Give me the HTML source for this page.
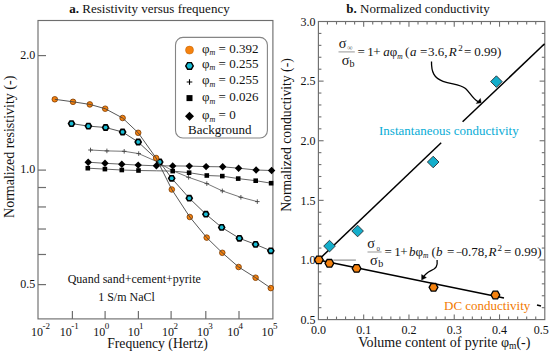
<!DOCTYPE html>
<html><head><meta charset="utf-8"><style>
html,body{margin:0;padding:0;background:#fff;width:550px;height:354px;overflow:hidden}
svg{display:block}
text{font-family:"Liberation Serif",serif;fill:#111}
.t12{font-size:12px} .t13{font-size:13px} .t14{font-size:13.7px}
</style></head><body>
<svg width="550" height="354" viewBox="0 0 550 354">
<rect x="38.0" y="20.5" width="234.90" height="298.40" fill="none" stroke="#6e6e6e" stroke-width="1.15"/>
<line x1="38.0" y1="55.59" x2="46.0" y2="55.59" stroke="#6e6e6e" stroke-width="1.2"/>
<line x1="38.0" y1="170.10" x2="46.0" y2="170.10" stroke="#6e6e6e" stroke-width="1.2"/>
<line x1="38.0" y1="187.51" x2="46.0" y2="187.51" stroke="#6e6e6e" stroke-width="1.2"/>
<line x1="38.0" y1="206.96" x2="46.0" y2="206.96" stroke="#6e6e6e" stroke-width="1.2"/>
<line x1="38.0" y1="229.02" x2="46.0" y2="229.02" stroke="#6e6e6e" stroke-width="1.2"/>
<line x1="38.0" y1="254.49" x2="46.0" y2="254.49" stroke="#6e6e6e" stroke-width="1.2"/>
<line x1="38.0" y1="284.61" x2="46.0" y2="284.61" stroke="#6e6e6e" stroke-width="1.2"/>
<text x="35.3" y="58.59" text-anchor="end" class="t12">2.0</text>
<text x="35.3" y="173.10" text-anchor="end" class="t12">1.0</text>
<text x="35.3" y="287.61" text-anchor="end" class="t12">0.5</text>
<line x1="72.40" y1="318.9" x2="72.40" y2="310.9" stroke="#6e6e6e" stroke-width="1.2"/>
<line x1="105.10" y1="318.9" x2="105.10" y2="310.9" stroke="#6e6e6e" stroke-width="1.2"/>
<line x1="138.40" y1="318.9" x2="138.40" y2="310.9" stroke="#6e6e6e" stroke-width="1.2"/>
<line x1="171.10" y1="318.9" x2="171.10" y2="310.9" stroke="#6e6e6e" stroke-width="1.2"/>
<line x1="205.80" y1="318.9" x2="205.80" y2="310.9" stroke="#6e6e6e" stroke-width="1.2"/>
<line x1="239.00" y1="318.9" x2="239.00" y2="310.9" stroke="#6e6e6e" stroke-width="1.2"/>
<text x="31.05" y="336.4" class="t12">10<tspan font-size="9" dx="-0.6" dy="-7.2">-2</tspan></text>
<text x="59.75" y="336.4" class="t12">10<tspan font-size="9" dx="-0.6" dy="-7.2">-1</tspan></text>
<text x="93.25" y="336.4" class="t12">10<tspan font-size="9" dx="-0.6" dy="-7.2">0</tspan></text>
<text x="127.65" y="336.4" class="t12">10<tspan font-size="9" dx="-0.6" dy="-7.2">1</tspan></text>
<text x="162.05" y="336.4" class="t12">10<tspan font-size="9" dx="-0.6" dy="-7.2">2</tspan></text>
<text x="196.95" y="336.4" class="t12">10<tspan font-size="9" dx="-0.6" dy="-7.2">3</tspan></text>
<text x="227.15" y="336.4" class="t12">10<tspan font-size="9" dx="-0.6" dy="-7.2">4</tspan></text>
<text x="261.55" y="336.4" class="t12">10<tspan font-size="9" dx="-0.6" dy="-7.2">5</tspan></text>
<text x="149.5" y="13.2" text-anchor="middle" class="t13"><tspan font-weight="bold">a.</tspan> Resistivity versus frequency</text>
<text x="157.5" y="347.5" text-anchor="middle" class="t14">Frequency (Hertz)</text>
<text transform="translate(13.9,146.8) rotate(-90)" text-anchor="middle" font-size="14">Normalized resistivity (-)</text>
<text x="134.3" y="283.0" text-anchor="middle" class="t12">Quand sand+cement+pyrite</text>
<text x="126.5" y="301" text-anchor="middle" class="t12">1 S/m NaCl</text>
<polyline points="88.2,162.2 105.0,163.3 121.8,164.2 138.2,165.1 156.4,165.8 172.7,165.9 189.3,166.1 206.1,166.6 222.7,166.8 238.6,168.2 256.1,170.0 271.6,170.5" fill="none" stroke="#555" stroke-width="0.9"/>
<polyline points="87.8,168.2 104.9,169.1 121.8,170.0 138.5,170.5 156.4,170.8 172.7,171.1 189.1,172.7 206.8,175.5 222.3,176.1 238.2,178.6 255.7,180.7 271.1,183.2" fill="none" stroke="#555" stroke-width="0.9"/>
<polyline points="90.5,150.0 106.9,150.9 124.2,151.3 138.7,153.6 155.5,161.0 172.2,170.5 188.6,177.3 206.8,183.6 222.3,190.9 240.9,197.3 257.3,201.6" fill="none" stroke="#666" stroke-width="0.9"/>
<rect x="85.50" y="165.90" width="4.6" height="4.6" fill="#000"/>
<rect x="102.60" y="166.80" width="4.6" height="4.6" fill="#000"/>
<rect x="119.50" y="167.70" width="4.6" height="4.6" fill="#000"/>
<rect x="136.20" y="168.20" width="4.6" height="4.6" fill="#000"/>
<rect x="170.40" y="168.80" width="4.6" height="4.6" fill="#000"/>
<rect x="186.80" y="170.40" width="4.6" height="4.6" fill="#000"/>
<rect x="204.50" y="173.20" width="4.6" height="4.6" fill="#000"/>
<rect x="220.00" y="173.80" width="4.6" height="4.6" fill="#000"/>
<rect x="235.90" y="176.30" width="4.6" height="4.6" fill="#000"/>
<rect x="253.40" y="178.40" width="4.6" height="4.6" fill="#000"/>
<rect x="268.80" y="180.90" width="4.6" height="4.6" fill="#000"/>
<polygon points="88.20,158.50 91.90,162.20 88.20,165.90 84.50,162.20" fill="#000" stroke="none" stroke-width="0"/>
<polygon points="105.00,159.60 108.70,163.30 105.00,167.00 101.30,163.30" fill="#000" stroke="none" stroke-width="0"/>
<polygon points="121.80,160.50 125.50,164.20 121.80,167.90 118.10,164.20" fill="#000" stroke="none" stroke-width="0"/>
<polygon points="138.20,161.40 141.90,165.10 138.20,168.80 134.50,165.10" fill="#000" stroke="none" stroke-width="0"/>
<polygon points="156.40,162.10 160.10,165.80 156.40,169.50 152.70,165.80" fill="#000" stroke="none" stroke-width="0"/>
<polygon points="172.70,162.20 176.40,165.90 172.70,169.60 169.00,165.90" fill="#000" stroke="none" stroke-width="0"/>
<polygon points="189.30,162.40 193.00,166.10 189.30,169.80 185.60,166.10" fill="#000" stroke="none" stroke-width="0"/>
<polygon points="206.10,162.90 209.80,166.60 206.10,170.30 202.40,166.60" fill="#000" stroke="none" stroke-width="0"/>
<polygon points="222.70,163.10 226.40,166.80 222.70,170.50 219.00,166.80" fill="#000" stroke="none" stroke-width="0"/>
<polygon points="238.60,164.50 242.30,168.20 238.60,171.90 234.90,168.20" fill="#000" stroke="none" stroke-width="0"/>
<polygon points="256.10,166.30 259.80,170.00 256.10,173.70 252.40,170.00" fill="#000" stroke="none" stroke-width="0"/>
<polygon points="271.60,166.80 275.30,170.50 271.60,174.20 267.90,170.50" fill="#000" stroke="none" stroke-width="0"/>
<path d="M88.20 150.00H92.80M90.50 147.70V152.30" stroke="#444" stroke-width="0.9"/>
<path d="M104.60 150.90H109.20M106.90 148.60V153.20" stroke="#444" stroke-width="0.9"/>
<path d="M121.90 151.30H126.50M124.20 149.00V153.60" stroke="#444" stroke-width="0.9"/>
<path d="M136.40 153.60H141.00M138.70 151.30V155.90" stroke="#444" stroke-width="0.9"/>
<path d="M186.30 177.30H190.90M188.60 175.00V179.60" stroke="#444" stroke-width="0.9"/>
<path d="M204.50 183.60H209.10M206.80 181.30V185.90" stroke="#444" stroke-width="0.9"/>
<path d="M220.00 190.90H224.60M222.30 188.60V193.20" stroke="#444" stroke-width="0.9"/>
<path d="M238.60 197.30H243.20M240.90 195.00V199.60" stroke="#444" stroke-width="0.9"/>
<path d="M255.00 201.60H259.60M257.30 199.30V203.90" stroke="#444" stroke-width="0.9"/>
<polyline points="71.5,123.6 88.4,126.1 105.6,127.5 122.6,132.0 138.2,142.0 159.7,162.0 171.7,178.3 189.3,198.2 205.9,214.2 221.7,227.4 239.4,238.3 255.6,244.4 270.8,250.8" fill="none" stroke="#444" stroke-width="0.9"/>
<polygon points="74.50,123.60 73.00,126.20 70.00,126.20 68.50,123.60 70.00,121.00 73.00,121.00" fill="#18bdd5" stroke="#000" stroke-width="1.6"/>
<polygon points="91.40,126.10 89.90,128.70 86.90,128.70 85.40,126.10 86.90,123.50 89.90,123.50" fill="#18bdd5" stroke="#000" stroke-width="1.6"/>
<polygon points="108.60,127.50 107.10,130.10 104.10,130.10 102.60,127.50 104.10,124.90 107.10,124.90" fill="#18bdd5" stroke="#000" stroke-width="1.6"/>
<polygon points="125.60,132.00 124.10,134.60 121.10,134.60 119.60,132.00 121.10,129.40 124.10,129.40" fill="#18bdd5" stroke="#000" stroke-width="1.6"/>
<polygon points="141.20,142.00 139.70,144.60 136.70,144.60 135.20,142.00 136.70,139.40 139.70,139.40" fill="#18bdd5" stroke="#000" stroke-width="1.6"/>
<polygon points="162.70,162.00 161.20,164.60 158.20,164.60 156.70,162.00 158.20,159.40 161.20,159.40" fill="#18bdd5" stroke="#000" stroke-width="1.6"/>
<polygon points="174.70,178.30 173.20,180.90 170.20,180.90 168.70,178.30 170.20,175.70 173.20,175.70" fill="#18bdd5" stroke="#000" stroke-width="1.6"/>
<polygon points="192.30,198.20 190.80,200.80 187.80,200.80 186.30,198.20 187.80,195.60 190.80,195.60" fill="#18bdd5" stroke="#000" stroke-width="1.6"/>
<polygon points="208.90,214.20 207.40,216.80 204.40,216.80 202.90,214.20 204.40,211.60 207.40,211.60" fill="#18bdd5" stroke="#000" stroke-width="1.6"/>
<polygon points="224.70,227.40 223.20,230.00 220.20,230.00 218.70,227.40 220.20,224.80 223.20,224.80" fill="#18bdd5" stroke="#000" stroke-width="1.6"/>
<polygon points="242.40,238.30 240.90,240.90 237.90,240.90 236.40,238.30 237.90,235.70 240.90,235.70" fill="#18bdd5" stroke="#000" stroke-width="1.6"/>
<polygon points="258.60,244.40 257.10,247.00 254.10,247.00 252.60,244.40 254.10,241.80 257.10,241.80" fill="#18bdd5" stroke="#000" stroke-width="1.6"/>
<polygon points="273.80,250.80 272.30,253.40 269.30,253.40 267.80,250.80 269.30,248.20 272.30,248.20" fill="#18bdd5" stroke="#000" stroke-width="1.6"/>
<circle cx="54.8" cy="99.3" r="2.8" fill="#f5820f" stroke="#7a3a00" stroke-width="0.8"/>
<circle cx="73" cy="101.8" r="2.8" fill="#f5820f" stroke="#7a3a00" stroke-width="0.8"/>
<circle cx="89.8" cy="104.4" r="2.8" fill="#f5820f" stroke="#7a3a00" stroke-width="0.8"/>
<circle cx="105.2" cy="108.7" r="2.8" fill="#f5820f" stroke="#7a3a00" stroke-width="0.8"/>
<circle cx="122.6" cy="118" r="2.8" fill="#f5820f" stroke="#7a3a00" stroke-width="0.8"/>
<circle cx="138.2" cy="132.8" r="2.8" fill="#f5820f" stroke="#7a3a00" stroke-width="0.8"/>
<circle cx="156.1" cy="158" r="2.8" fill="#f5820f" stroke="#7a3a00" stroke-width="0.8"/>
<circle cx="171.8" cy="189.5" r="2.8" fill="#f5820f" stroke="#7a3a00" stroke-width="0.8"/>
<circle cx="189.8" cy="217" r="2.8" fill="#f5820f" stroke="#7a3a00" stroke-width="0.8"/>
<circle cx="206.7" cy="237.6" r="2.8" fill="#f5820f" stroke="#7a3a00" stroke-width="0.8"/>
<circle cx="222.3" cy="252.8" r="2.8" fill="#f5820f" stroke="#7a3a00" stroke-width="0.8"/>
<circle cx="238.6" cy="267" r="2.8" fill="#f5820f" stroke="#7a3a00" stroke-width="0.8"/>
<circle cx="255.6" cy="277.7" r="2.8" fill="#f5820f" stroke="#7a3a00" stroke-width="0.8"/>
<circle cx="270.8" cy="288.1" r="2.8" fill="#f5820f" stroke="#7a3a00" stroke-width="0.8"/>
<polyline points="54.8,99.3 73.0,101.8 89.8,104.4 105.2,108.7 122.6,118.0 138.2,132.8 156.1,158.0 171.8,189.5 189.8,217.0 206.7,237.6 222.3,252.8 238.6,267.0 255.6,277.7 270.8,288.1" fill="none" stroke="#444" stroke-width="0.9"/>
<rect x="175.5" y="37.4" width="91.9" height="100.6" rx="7.5" ry="7.5" fill="#fff" stroke="#858585" stroke-width="1.1"/>
<circle cx="189.5" cy="50.1" r="4" fill="#f5820f" stroke="#c06000" stroke-width="0.5"/>
<polygon points="193.30,65.90 191.40,69.19 187.60,69.19 185.70,65.90 187.60,62.61 191.40,62.61" fill="#18bdd5" stroke="#000" stroke-width="1.4"/>
<path d="M186.70 82.00H192.30M189.50 79.20V84.80" stroke="#000" stroke-width="1.1"/>
<rect x="186.5" y="95.1" width="6" height="6" fill="#000"/>
<polygon points="189.50,111.70 194.00,116.20 189.50,120.70 185.00,116.20" fill="#000" stroke="none" stroke-width="0"/>
<text x="202" y="52.7" class="t13">φ<tspan font-style="italic" font-size="8" dy="2.6">m</tspan><tspan dy="-2.6"> = 0.392</tspan></text>
<text x="202" y="67.7" class="t13">φ<tspan font-style="italic" font-size="8" dy="2.6">m</tspan><tspan dy="-2.6"> = 0.255</tspan></text>
<text x="202" y="84.0" class="t13">φ<tspan font-style="italic" font-size="8" dy="2.6">m</tspan><tspan dy="-2.6"> = 0.255</tspan></text>
<text x="202" y="101.0" class="t13">φ<tspan font-style="italic" font-size="8" dy="2.6">m</tspan><tspan dy="-2.6"> = 0.026</tspan></text>
<text x="202" y="119.0" class="t13">φ<tspan font-style="italic" font-size="8" dy="2.6">m</tspan><tspan dy="-2.6"> = 0</tspan></text>
<text x="188" y="134.3" class="t13">Background</text>
<rect x="318.4" y="21.5" width="226.40" height="298.10" fill="none" stroke="#6e6e6e" stroke-width="1.15"/>
<line x1="327.46" y1="319.6" x2="327.46" y2="316.6" stroke="#6e6e6e" stroke-width="1.1"/>
<line x1="327.46" y1="21.5" x2="327.46" y2="24.5" stroke="#6e6e6e" stroke-width="1.1"/>
<line x1="336.51" y1="319.6" x2="336.51" y2="316.6" stroke="#6e6e6e" stroke-width="1.1"/>
<line x1="336.51" y1="21.5" x2="336.51" y2="24.5" stroke="#6e6e6e" stroke-width="1.1"/>
<line x1="345.57" y1="319.6" x2="345.57" y2="316.6" stroke="#6e6e6e" stroke-width="1.1"/>
<line x1="345.57" y1="21.5" x2="345.57" y2="24.5" stroke="#6e6e6e" stroke-width="1.1"/>
<line x1="354.62" y1="319.6" x2="354.62" y2="316.6" stroke="#6e6e6e" stroke-width="1.1"/>
<line x1="354.62" y1="21.5" x2="354.62" y2="24.5" stroke="#6e6e6e" stroke-width="1.1"/>
<line x1="363.68" y1="319.6" x2="363.68" y2="314.40000000000003" stroke="#6e6e6e" stroke-width="1.1"/>
<line x1="363.68" y1="21.5" x2="363.68" y2="26.7" stroke="#6e6e6e" stroke-width="1.1"/>
<line x1="372.74" y1="319.6" x2="372.74" y2="316.6" stroke="#6e6e6e" stroke-width="1.1"/>
<line x1="372.74" y1="21.5" x2="372.74" y2="24.5" stroke="#6e6e6e" stroke-width="1.1"/>
<line x1="381.79" y1="319.6" x2="381.79" y2="316.6" stroke="#6e6e6e" stroke-width="1.1"/>
<line x1="381.79" y1="21.5" x2="381.79" y2="24.5" stroke="#6e6e6e" stroke-width="1.1"/>
<line x1="390.85" y1="319.6" x2="390.85" y2="316.6" stroke="#6e6e6e" stroke-width="1.1"/>
<line x1="390.85" y1="21.5" x2="390.85" y2="24.5" stroke="#6e6e6e" stroke-width="1.1"/>
<line x1="399.90" y1="319.6" x2="399.90" y2="316.6" stroke="#6e6e6e" stroke-width="1.1"/>
<line x1="399.90" y1="21.5" x2="399.90" y2="24.5" stroke="#6e6e6e" stroke-width="1.1"/>
<line x1="408.96" y1="319.6" x2="408.96" y2="314.40000000000003" stroke="#6e6e6e" stroke-width="1.1"/>
<line x1="408.96" y1="21.5" x2="408.96" y2="26.7" stroke="#6e6e6e" stroke-width="1.1"/>
<line x1="418.02" y1="319.6" x2="418.02" y2="316.6" stroke="#6e6e6e" stroke-width="1.1"/>
<line x1="418.02" y1="21.5" x2="418.02" y2="24.5" stroke="#6e6e6e" stroke-width="1.1"/>
<line x1="427.07" y1="319.6" x2="427.07" y2="316.6" stroke="#6e6e6e" stroke-width="1.1"/>
<line x1="427.07" y1="21.5" x2="427.07" y2="24.5" stroke="#6e6e6e" stroke-width="1.1"/>
<line x1="436.13" y1="319.6" x2="436.13" y2="316.6" stroke="#6e6e6e" stroke-width="1.1"/>
<line x1="436.13" y1="21.5" x2="436.13" y2="24.5" stroke="#6e6e6e" stroke-width="1.1"/>
<line x1="445.18" y1="319.6" x2="445.18" y2="316.6" stroke="#6e6e6e" stroke-width="1.1"/>
<line x1="445.18" y1="21.5" x2="445.18" y2="24.5" stroke="#6e6e6e" stroke-width="1.1"/>
<line x1="454.24" y1="319.6" x2="454.24" y2="314.40000000000003" stroke="#6e6e6e" stroke-width="1.1"/>
<line x1="454.24" y1="21.5" x2="454.24" y2="26.7" stroke="#6e6e6e" stroke-width="1.1"/>
<line x1="463.30" y1="319.6" x2="463.30" y2="316.6" stroke="#6e6e6e" stroke-width="1.1"/>
<line x1="463.30" y1="21.5" x2="463.30" y2="24.5" stroke="#6e6e6e" stroke-width="1.1"/>
<line x1="472.35" y1="319.6" x2="472.35" y2="316.6" stroke="#6e6e6e" stroke-width="1.1"/>
<line x1="472.35" y1="21.5" x2="472.35" y2="24.5" stroke="#6e6e6e" stroke-width="1.1"/>
<line x1="481.41" y1="319.6" x2="481.41" y2="316.6" stroke="#6e6e6e" stroke-width="1.1"/>
<line x1="481.41" y1="21.5" x2="481.41" y2="24.5" stroke="#6e6e6e" stroke-width="1.1"/>
<line x1="490.46" y1="319.6" x2="490.46" y2="316.6" stroke="#6e6e6e" stroke-width="1.1"/>
<line x1="490.46" y1="21.5" x2="490.46" y2="24.5" stroke="#6e6e6e" stroke-width="1.1"/>
<line x1="499.52" y1="319.6" x2="499.52" y2="314.40000000000003" stroke="#6e6e6e" stroke-width="1.1"/>
<line x1="499.52" y1="21.5" x2="499.52" y2="26.7" stroke="#6e6e6e" stroke-width="1.1"/>
<line x1="508.58" y1="319.6" x2="508.58" y2="316.6" stroke="#6e6e6e" stroke-width="1.1"/>
<line x1="508.58" y1="21.5" x2="508.58" y2="24.5" stroke="#6e6e6e" stroke-width="1.1"/>
<line x1="517.63" y1="319.6" x2="517.63" y2="316.6" stroke="#6e6e6e" stroke-width="1.1"/>
<line x1="517.63" y1="21.5" x2="517.63" y2="24.5" stroke="#6e6e6e" stroke-width="1.1"/>
<line x1="526.69" y1="319.6" x2="526.69" y2="316.6" stroke="#6e6e6e" stroke-width="1.1"/>
<line x1="526.69" y1="21.5" x2="526.69" y2="24.5" stroke="#6e6e6e" stroke-width="1.1"/>
<line x1="535.74" y1="319.6" x2="535.74" y2="316.6" stroke="#6e6e6e" stroke-width="1.1"/>
<line x1="535.74" y1="21.5" x2="535.74" y2="24.5" stroke="#6e6e6e" stroke-width="1.1"/>
<line x1="318.4" y1="307.68" x2="321.4" y2="307.68" stroke="#6e6e6e" stroke-width="1.1"/>
<line x1="544.8" y1="307.68" x2="541.8" y2="307.68" stroke="#6e6e6e" stroke-width="1.1"/>
<line x1="318.4" y1="295.75" x2="321.4" y2="295.75" stroke="#6e6e6e" stroke-width="1.1"/>
<line x1="544.8" y1="295.75" x2="541.8" y2="295.75" stroke="#6e6e6e" stroke-width="1.1"/>
<line x1="318.4" y1="283.83" x2="321.4" y2="283.83" stroke="#6e6e6e" stroke-width="1.1"/>
<line x1="544.8" y1="283.83" x2="541.8" y2="283.83" stroke="#6e6e6e" stroke-width="1.1"/>
<line x1="318.4" y1="271.90" x2="321.4" y2="271.90" stroke="#6e6e6e" stroke-width="1.1"/>
<line x1="544.8" y1="271.90" x2="541.8" y2="271.90" stroke="#6e6e6e" stroke-width="1.1"/>
<line x1="318.4" y1="259.98" x2="323.59999999999997" y2="259.98" stroke="#6e6e6e" stroke-width="1.1"/>
<line x1="544.8" y1="259.98" x2="539.5999999999999" y2="259.98" stroke="#6e6e6e" stroke-width="1.1"/>
<line x1="318.4" y1="248.06" x2="321.4" y2="248.06" stroke="#6e6e6e" stroke-width="1.1"/>
<line x1="544.8" y1="248.06" x2="541.8" y2="248.06" stroke="#6e6e6e" stroke-width="1.1"/>
<line x1="318.4" y1="236.13" x2="321.4" y2="236.13" stroke="#6e6e6e" stroke-width="1.1"/>
<line x1="544.8" y1="236.13" x2="541.8" y2="236.13" stroke="#6e6e6e" stroke-width="1.1"/>
<line x1="318.4" y1="224.21" x2="321.4" y2="224.21" stroke="#6e6e6e" stroke-width="1.1"/>
<line x1="544.8" y1="224.21" x2="541.8" y2="224.21" stroke="#6e6e6e" stroke-width="1.1"/>
<line x1="318.4" y1="212.28" x2="321.4" y2="212.28" stroke="#6e6e6e" stroke-width="1.1"/>
<line x1="544.8" y1="212.28" x2="541.8" y2="212.28" stroke="#6e6e6e" stroke-width="1.1"/>
<line x1="318.4" y1="200.36" x2="323.59999999999997" y2="200.36" stroke="#6e6e6e" stroke-width="1.1"/>
<line x1="544.8" y1="200.36" x2="539.5999999999999" y2="200.36" stroke="#6e6e6e" stroke-width="1.1"/>
<line x1="318.4" y1="188.44" x2="321.4" y2="188.44" stroke="#6e6e6e" stroke-width="1.1"/>
<line x1="544.8" y1="188.44" x2="541.8" y2="188.44" stroke="#6e6e6e" stroke-width="1.1"/>
<line x1="318.4" y1="176.51" x2="321.4" y2="176.51" stroke="#6e6e6e" stroke-width="1.1"/>
<line x1="544.8" y1="176.51" x2="541.8" y2="176.51" stroke="#6e6e6e" stroke-width="1.1"/>
<line x1="318.4" y1="164.59" x2="321.4" y2="164.59" stroke="#6e6e6e" stroke-width="1.1"/>
<line x1="544.8" y1="164.59" x2="541.8" y2="164.59" stroke="#6e6e6e" stroke-width="1.1"/>
<line x1="318.4" y1="152.66" x2="321.4" y2="152.66" stroke="#6e6e6e" stroke-width="1.1"/>
<line x1="544.8" y1="152.66" x2="541.8" y2="152.66" stroke="#6e6e6e" stroke-width="1.1"/>
<line x1="318.4" y1="140.74" x2="323.59999999999997" y2="140.74" stroke="#6e6e6e" stroke-width="1.1"/>
<line x1="544.8" y1="140.74" x2="539.5999999999999" y2="140.74" stroke="#6e6e6e" stroke-width="1.1"/>
<line x1="318.4" y1="128.82" x2="321.4" y2="128.82" stroke="#6e6e6e" stroke-width="1.1"/>
<line x1="544.8" y1="128.82" x2="541.8" y2="128.82" stroke="#6e6e6e" stroke-width="1.1"/>
<line x1="318.4" y1="116.89" x2="321.4" y2="116.89" stroke="#6e6e6e" stroke-width="1.1"/>
<line x1="544.8" y1="116.89" x2="541.8" y2="116.89" stroke="#6e6e6e" stroke-width="1.1"/>
<line x1="318.4" y1="104.97" x2="321.4" y2="104.97" stroke="#6e6e6e" stroke-width="1.1"/>
<line x1="544.8" y1="104.97" x2="541.8" y2="104.97" stroke="#6e6e6e" stroke-width="1.1"/>
<line x1="318.4" y1="93.04" x2="321.4" y2="93.04" stroke="#6e6e6e" stroke-width="1.1"/>
<line x1="544.8" y1="93.04" x2="541.8" y2="93.04" stroke="#6e6e6e" stroke-width="1.1"/>
<line x1="318.4" y1="81.12" x2="323.59999999999997" y2="81.12" stroke="#6e6e6e" stroke-width="1.1"/>
<line x1="544.8" y1="81.12" x2="539.5999999999999" y2="81.12" stroke="#6e6e6e" stroke-width="1.1"/>
<line x1="318.4" y1="69.20" x2="321.4" y2="69.20" stroke="#6e6e6e" stroke-width="1.1"/>
<line x1="544.8" y1="69.20" x2="541.8" y2="69.20" stroke="#6e6e6e" stroke-width="1.1"/>
<line x1="318.4" y1="57.27" x2="321.4" y2="57.27" stroke="#6e6e6e" stroke-width="1.1"/>
<line x1="544.8" y1="57.27" x2="541.8" y2="57.27" stroke="#6e6e6e" stroke-width="1.1"/>
<line x1="318.4" y1="45.35" x2="321.4" y2="45.35" stroke="#6e6e6e" stroke-width="1.1"/>
<line x1="544.8" y1="45.35" x2="541.8" y2="45.35" stroke="#6e6e6e" stroke-width="1.1"/>
<line x1="318.4" y1="33.42" x2="321.4" y2="33.42" stroke="#6e6e6e" stroke-width="1.1"/>
<line x1="544.8" y1="33.42" x2="541.8" y2="33.42" stroke="#6e6e6e" stroke-width="1.1"/>
<text x="315.5" y="323.90" text-anchor="end" class="t12">0.5</text>
<text x="315.5" y="264.28" text-anchor="end" class="t12">1.0</text>
<text x="315.5" y="204.66" text-anchor="end" class="t12">1.5</text>
<text x="315.5" y="145.04" text-anchor="end" class="t12">2.0</text>
<text x="315.5" y="85.42" text-anchor="end" class="t12">2.5</text>
<text x="315.5" y="25.80" text-anchor="end" class="t12">3.0</text>
<text x="318.40" y="334.3" text-anchor="middle" class="t12">0.0</text>
<text x="363.68" y="334.3" text-anchor="middle" class="t12">0.1</text>
<text x="408.96" y="334.3" text-anchor="middle" class="t12">0.2</text>
<text x="454.24" y="334.3" text-anchor="middle" class="t12">0.3</text>
<text x="499.52" y="334.3" text-anchor="middle" class="t12">0.4</text>
<text x="541.30" y="334.3" text-anchor="middle" class="t12">0.5</text>
<text x="418" y="13.2" text-anchor="middle" class="t13"><tspan font-weight="bold">b.</tspan> Normalized conductivity</text>
<text x="444.3" y="346.7" text-anchor="middle" font-size="14">Volume content of pyrite φ<tspan font-size="9.5" dy="2">m</tspan><tspan dy="-2">(-)</tspan></text>
<text transform="translate(290.5,135.0) rotate(-90)" text-anchor="middle" class="t14">Normalized conductivity (-)</text>
<line x1="318.4" y1="260.0" x2="441.2" y2="142.8" stroke="#000" stroke-width="1.5"/>
<line x1="462.6" y1="121.8" x2="544.6" y2="43.8" stroke="#000" stroke-width="1.5"/>
<line x1="318.40" y1="259.98" x2="504.00" y2="298.10" stroke="#000" stroke-width="1.5"/>
<line x1="537" y1="305" x2="541" y2="306" stroke="#000" stroke-width="1.5"/>
<line x1="333.3" y1="260.1" x2="355.9" y2="260.1" stroke="#9a9a9a" stroke-width="1.3"/>
<polygon points="329.50,240.30 335.30,246.10 329.50,251.90 323.70,246.10" fill="#14aecb" stroke="#2a3035" stroke-width="0.9"/>
<polygon points="357.60,225.20 363.40,231.00 357.60,236.80 351.80,231.00" fill="#14aecb" stroke="#2a3035" stroke-width="0.9"/>
<polygon points="433.20,156.20 439.00,162.00 433.20,167.80 427.40,162.00" fill="#14aecb" stroke="#2a3035" stroke-width="0.9"/>
<polygon points="496.40,75.80 502.20,81.60 496.40,87.40 490.60,81.60" fill="#14aecb" stroke="#2a3035" stroke-width="0.9"/>
<polygon points="323.30,259.90 321.10,263.71 316.70,263.71 314.50,259.90 316.70,256.09 321.10,256.09" fill="#f5820f" stroke="#000" stroke-width="1.3"/>
<polygon points="333.80,263.30 331.60,267.11 327.20,267.11 325.00,263.30 327.20,259.49 331.60,259.49" fill="#f5820f" stroke="#000" stroke-width="1.3"/>
<polygon points="361.00,268.40 358.80,272.21 354.40,272.21 352.20,268.40 354.40,264.59 358.80,264.59" fill="#f5820f" stroke="#000" stroke-width="1.3"/>
<polygon points="437.90,287.30 435.70,291.11 431.30,291.11 429.10,287.30 431.30,283.49 435.70,283.49" fill="#f5820f" stroke="#000" stroke-width="1.3"/>
<polygon points="499.80,295.00 497.60,298.81 493.20,298.81 491.00,295.00 493.20,291.19 497.60,291.19" fill="#f5820f" stroke="#000" stroke-width="1.3"/>
<text x="338.8" y="47.6" font-size="14.3">σ</text>
<text x="347.3" y="49.8" font-size="7.5" style="fill:#555">∞</text>
<line x1="338.5" y1="51.9" x2="354.8" y2="51.9" stroke="#a0a0a0" stroke-width="1.1"/>
<text x="341.8" y="64.8" font-size="14.3">σ</text>
<text x="349.5" y="67.4" font-size="10">b</text>
<text y="56.2" font-size="13"><tspan x="357.45">=</tspan><tspan x="367.3">1</tspan><tspan x="373.25">+</tspan><tspan x="383.3" font-style="italic">a</tspan>φ<tspan font-style="italic" font-size="7.5" dy="2.5">m</tspan><tspan x="404.9" dy="-2.5">(</tspan><tspan x="410.1" font-style="italic">a</tspan><tspan x="419.95">=</tspan><tspan x="428.1">3.6,</tspan><tspan x="448.8" font-style="italic">R</tspan><tspan font-size="9" dx="1.5" dy="-5">2</tspan><tspan x="464.05" dy="5">=</tspan><tspan x="474.2">0.99)</tspan></text>
<text x="367.3" y="247.8" font-size="14.3">σ</text>
<text x="376.5" y="250.6" font-size="7" style="fill:#444">0</text>
<line x1="367.5" y1="252.0" x2="381.6" y2="252.0" stroke="#a0a0a0" stroke-width="1.1"/>
<text x="370" y="265.4" font-size="14.3">σ</text>
<text x="378.2" y="267" font-size="10">b</text>
<text y="255.9" font-size="13"><tspan x="384.45">=</tspan><tspan x="394.26">1</tspan><tspan x="400.25">+</tspan><tspan x="409.1" font-style="italic">b</tspan>φ<tspan font-style="italic" font-size="7.5" dy="2.5">m</tspan><tspan x="431.6" dy="-2.5">(</tspan><tspan x="436.1" font-style="italic">b</tspan><tspan x="446.9">=</tspan><tspan x="455.65" font-size="11">−</tspan><tspan x="461.6">0.78,</tspan><tspan x="488.5" font-style="italic">R</tspan><tspan font-size="9" dx="1" dy="-5">2</tspan><tspan x="504.05" dy="5">=</tspan><tspan x="514.6">0.99)</tspan></text>
<path d="M431.5 61.5 C431.3 72 434 78 443 81.3 C452 84.5 460 84 465.5 88.5 C470.5 93 472.5 98.5 478 101.6" fill="none" stroke="#000" stroke-width="1.3"/>
<path d="M481.2 102.8 L476.2 103.6 L480.4 98.4 Z" fill="#000" stroke="#000" stroke-width="0.4"/>
<path d="M437.1 260 C437.8 266 436 268.6 431 270.6 C426.5 272.6 424.5 275 422.8 278" fill="none" stroke="#000" stroke-width="1.3"/>
<path d="M421.6 280 L421.6 274.6 L426.4 277.6 Z" fill="#000" stroke="#000" stroke-width="0.4"/>
<text x="379" y="134.7" class="t13" style="fill:#08acd6">Instantaneous conductivity</text>
<text x="444" y="309.6" class="t13" style="fill:#f27a00">DC conductivity</text>
</svg></body></html>
